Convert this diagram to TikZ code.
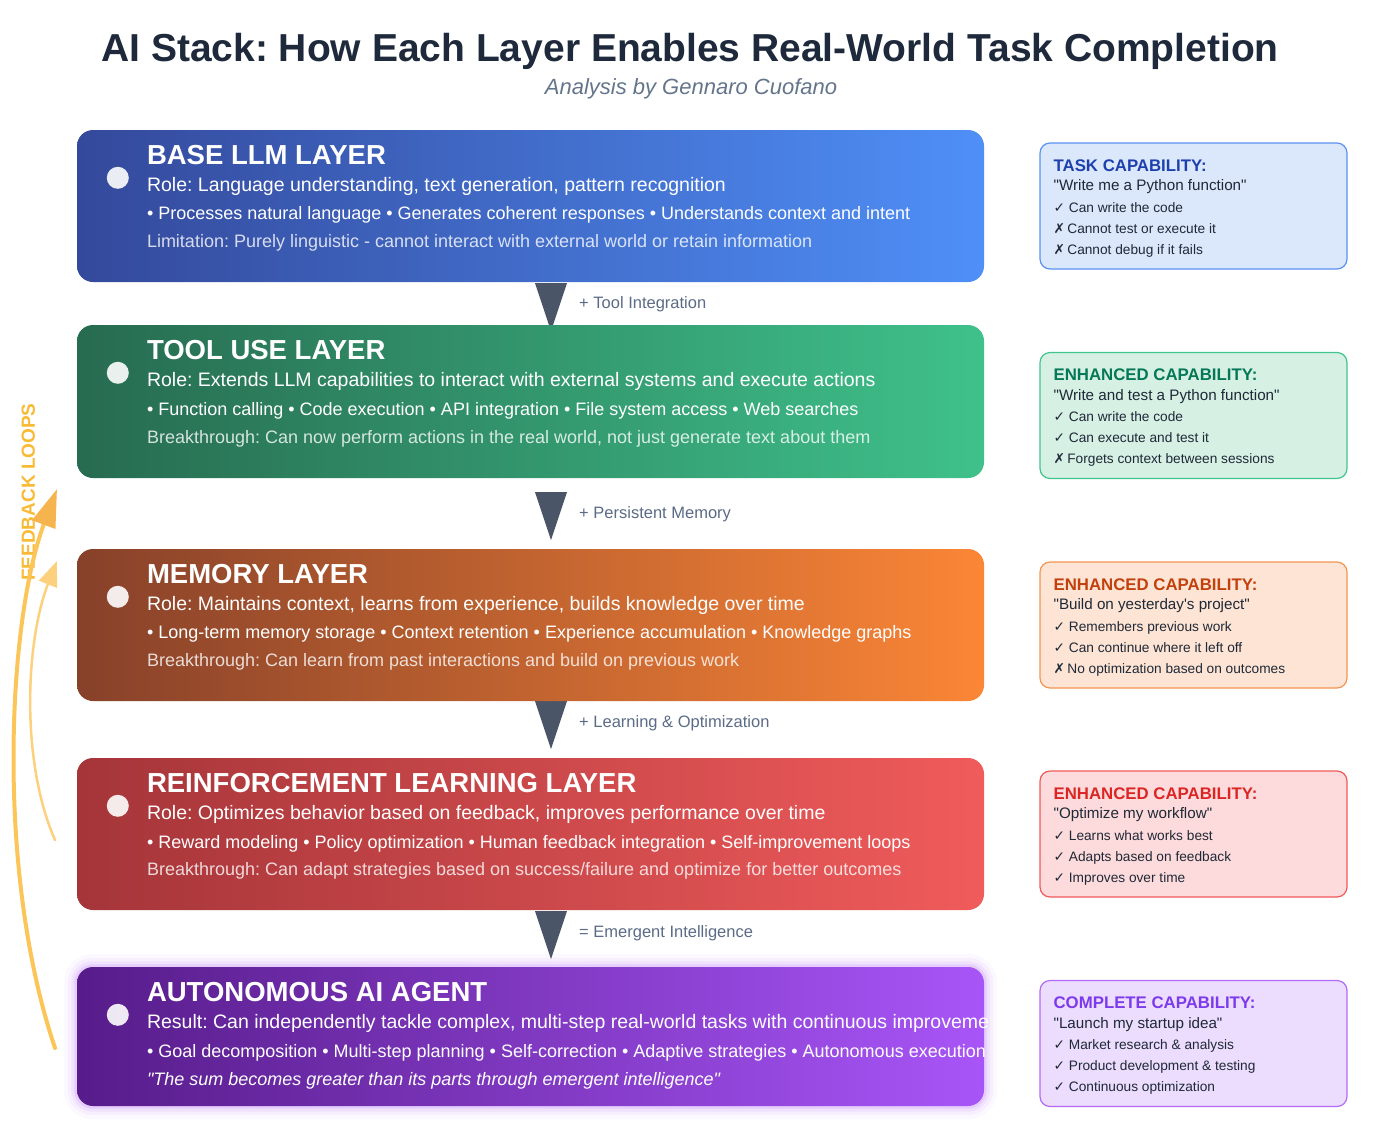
\documentclass[tikz,border=0pt]{standalone}
\usepackage{fontspec}
\setmainfont{Liberation Sans}[Ligatures=TeXOff]
\newfontfamily\symfont{DejaVu Sans}
\usetikzlibrary{calc,positioning,arrows.meta,backgrounds}
\frenchspacing

\definecolor{titleink}{HTML}{1E293B}
\definecolor{subink}{HTML}{64748B}
\definecolor{stepink}{HTML}{4A5568}
\definecolor{steptext}{HTML}{5B6B86}
\definecolor{capink}{HTML}{1F2937}
\definecolor{loopcol}{HTML}{FBC55A}
\definecolor{looptip}{HTML}{F6B44E}
\definecolor{loopsoft}{HTML}{FCD07C}
\definecolor{looptext}{HTML}{F9BA36}
\definecolor{blueL}{HTML}{34499B}
\definecolor{blueR}{HTML}{4F8FF7}
\definecolor{greenL}{HTML}{276B50}
\definecolor{greenR}{HTML}{3FC18B}
\definecolor{brownL}{HTML}{87412A}
\definecolor{brownR}{HTML}{FB8636}
\definecolor{redL}{HTML}{A53539}
\definecolor{redR}{HTML}{F05B5B}
\definecolor{purpL}{HTML}{571C8A}
\definecolor{purpR}{HTML}{A855F7}
\newcommand\cmark{{\symfont ✓}}
\newcommand\xmark{{\symfont ✗}}

\begin{document}
\begin{tikzpicture}[x=1pt,y=-1pt,
  txt/.style={inner sep=0pt, text depth=0pt},
  layer/.style={rounded corners=16pt, minimum width=907pt, inner sep=0pt},
  ltitle/.style={txt, anchor=west, text=white, text height=19.8pt, font=\fontsize{27.5}{30}\selectfont\bfseries},
  lrole/.style={txt, anchor=west, text=white, text height=14pt, font=\fontsize{19.5}{22}\selectfont},
  lfeat/.style={txt, anchor=west, text=white, text height=13pt, font=\fontsize{18}{21}\selectfont},
  lnote/.style={lfeat, text opacity=0.8},
  dot/.style={circle, fill=white, fill opacity=0.9, minimum size=22pt, inner sep=0pt},
  capbox/.style={draw, rounded corners=10pt, line width=1.2pt, minimum width=307pt, minimum height=126pt, inner sep=0pt},
  ctitle/.style={txt, anchor=west, text height=12pt, font=\fontsize{16.8}{19}\selectfont\bfseries},
  cquote/.style={txt, anchor=west, text=capink, text height=11pt, font=\fontsize{15.2}{17}\selectfont},
  citem/.style={txt, anchor=west, text=capink, text height=9.8pt, font=\fontsize{13.7}{16}\selectfont},
  tri/.style={fill=stepink},
  steplbl/.style={txt, anchor=west, text=steptext, text height=11.9pt, font=\fontsize{16.5}{19}\selectfont}]
\useasboundingbox (0,0) rectangle (1374,1146);

% heading
\node[txt, text=titleink, text height=28pt, font=\fontsize{39}{44}\selectfont\bfseries] (title) at (690,47) {AI Stack: How Each Layer Enables Real-World Task Completion};
\node[txt, text=subink, text height=15.8pt, font=\fontsize{22}{26}\selectfont\itshape] (subtitle) at (691,87) {Analysis by Gennaro Cuofano};

% layers
\node[layer, minimum height=152pt, left color=blueL, right color=blueR] (base) at (530.5,206) {};
\node[dot] (basedot) at ($(base.north west)+(41,48)$) {};
\node[ltitle] (basettl) at ($(base.north west)+(70,25)$) {BASE LLM LAYER};
\node[lrole] (baserole) at ($(base.north west)+(70,55)$) {Role: Language understanding, text generation, pattern recognition};
\node[lfeat] (basefeat) at ($(base.north west)+(70,83)$) {• Processes natural language • Generates coherent responses • Understands context and intent};
\node[lnote] (basenote) at ($(base.north west)+(70,111)$) {Limitation: Purely linguistic - cannot interact with external world or retain information};

\node[layer, minimum height=153pt, left color=greenL, right color=greenR] (tool) at (530.5,401.5) {};
\node[dot] (tooldot) at ($(tool.north west)+(41,48)$) {};
\node[ltitle] (toolttl) at ($(tool.north west)+(70,25)$) {TOOL USE LAYER};
\node[lrole] (toolrole) at ($(tool.north west)+(70,55)$) {Role: Extends LLM capabilities to interact with external systems and execute actions};
\node[lfeat] (toolfeat) at ($(tool.north west)+(70,84)$) {• Function calling • Code execution • API integration • File system access • Web searches};
\node[lnote] (toolnote) at ($(tool.north west)+(70,112)$) {Breakthrough: Can now perform actions in the real world, not just generate text about them};

\node[layer, minimum height=152pt, left color=brownL, right color=brownR] (mem) at (530.5,625) {};
\node[dot] (memdot) at ($(mem.north west)+(41,48)$) {};
\node[ltitle] (memttl) at ($(mem.north west)+(70,25)$) {MEMORY LAYER};
\node[lrole] (memrole) at ($(mem.north west)+(70,55)$) {Role: Maintains context, learns from experience, builds knowledge over time};
\node[lfeat] (memfeat) at ($(mem.north west)+(70,83)$) {• Long-term memory storage • Context retention • Experience accumulation • Knowledge graphs};
\node[lnote] (memnote) at ($(mem.north west)+(70,111)$) {Breakthrough: Can learn from past interactions and build on previous work};

\node[layer, minimum height=152pt, left color=redL, right color=redR] (rl) at (530.5,834) {};
\node[dot] (rldot) at ($(rl.north west)+(41,48)$) {};
\node[ltitle] (rlttl) at ($(rl.north west)+(70,25)$) {REINFORCEMENT LEARNING LAYER};
\node[lrole] (rlrole) at ($(rl.north west)+(70,55)$) {Role: Optimizes behavior based on feedback, improves performance over time};
\node[lfeat] (rlfeat) at ($(rl.north west)+(70,84)$) {• Reward modeling • Policy optimization • Human feedback integration • Self-improvement loops};
\node[lnote] (rlnote) at ($(rl.north west)+(70,111)$) {Breakthrough: Can adapt strategies based on success/failure and optimize for better outcomes};

\node[layer, minimum height=139pt, left color=purpL, right color=purpR] (agent) at (530.5,1036.5) {};
\node[dot] (agentdot) at ($(agent.north west)+(41,48)$) {};
\begin{scope}
\clip ($(agent.north west)$) rectangle ($(agent.south east)+(5,0)$);
\node[ltitle] (agentttl) at ($(agent.north west)+(70,25)$) {AUTONOMOUS AI AGENT};
\node[lrole] (agentrole) at ($(agent.north west)+(70,55)$) {Result: Can independently tackle complex, multi-step real-world tasks with continuous improvement};
\node[lfeat] (agentfeat) at ($(agent.north west)+(70,84)$) {• Goal decomposition • Multi-step planning • Self-correction • Adaptive strategies • Autonomous execution};
\node[lfeat, font=\fontsize{18}{21}\selectfont\itshape] (agentnote) at ($(agent.north west)+(70,112)$) {"The sum becomes greater than its parts through emergent intelligence"};
\end{scope}

% glow and step arrows behind the layers
\begin{scope}[on background layer]
\foreach \w/\o in {26/0.04,18/0.06,11/0.09,5/0.14}
  \draw[purpR, line width=\w pt, opacity=\o, rounded corners=16pt] (agent.north west) rectangle (agent.south east);
\coordinate (s1) at ($(base.south)+(20.5,1)$);
\coordinate (s2) at ($(tool.south)+(20.5,14)$);
\coordinate (s3) at ($(mem.south)+(20.5,0)$);
\coordinate (s4) at ($(rl.south)+(20.5,1)$);
\foreach \s in {s1,s2,s3,s4}
  \fill[tri] ($(\s)+(-16,0)$) -- ($(\s)+(16,0)$) -- ($(\s)+(0,48)$) -- cycle;
\end{scope}
\node[steplbl] (lbl1) at ($(s1)+(28,19)$) {+ Tool Integration};
\node[steplbl] (lbl2) at ($(s2)+(28,20)$) {+ Persistent Memory};
\node[steplbl] (lbl3) at ($(s3)+(28,20)$) {+ Learning \& Optimization};
\node[steplbl] (lbl4) at ($(s4)+(28,20)$) {= Emergent Intelligence};

% capability panels
\node[capbox, fill={rgb,255:red,219;green,231;blue,251}, draw={rgb,255:red,91;green,145;blue,243}] (cap1) at (1193.5,206) {};
\node[ctitle, text={rgb,255:red,30;green,64;blue,175}] (cap1t) at ($(cap1.north west)+(14,23)$) {TASK CAPABILITY:};
\node[cquote] (cap1q) at ($(cap1.north west)+(14,43)$) {"Write me a Python function"};
\node[citem] (cap1a) at ($(cap1.north west)+(14,65)$) {\cmark\ Can write the code};
\node[citem] (cap1b) at ($(cap1.north west)+(14,86)$) {\xmark\,Cannot test or execute it};
\node[citem] (cap1c) at ($(cap1.north west)+(14,107)$) {\xmark\,Cannot debug if it fails};

\node[capbox, fill={rgb,255:red,214;green,240;blue,228}, draw={rgb,255:red,64;green,197;blue,140}] (cap2) at (1193.5,415.5) {};
\node[ctitle, text={rgb,255:red,4;green,120;blue,87}] (cap2t) at ($(cap2.north west)+(14,23)$) {ENHANCED CAPABILITY:};
\node[cquote] (cap2q) at ($(cap2.north west)+(14,43)$) {"Write and test a Python function"};
\node[citem] (cap2a) at ($(cap2.north west)+(14,65)$) {\cmark\ Can write the code};
\node[citem] (cap2b) at ($(cap2.north west)+(14,86)$) {\cmark\ Can execute and test it};
\node[citem] (cap2c) at ($(cap2.north west)+(14,107)$) {\xmark\,Forgets context between sessions};

\node[capbox, fill={rgb,255:red,253;green,228;blue,212}, draw={rgb,255:red,243;green,149;blue,82}] (cap3) at (1193.5,625) {};
\node[ctitle, text={rgb,255:red,194;green,65;blue,12}] (cap3t) at ($(cap3.north west)+(14,23)$) {ENHANCED CAPABILITY:};
\node[cquote] (cap3q) at ($(cap3.north west)+(14,43)$) {"Build on yesterday's project"};
\node[citem] (cap3a) at ($(cap3.north west)+(14,65)$) {\cmark\ Remembers previous work};
\node[citem] (cap3b) at ($(cap3.north west)+(14,86)$) {\cmark\ Can continue where it left off};
\node[citem] (cap3c) at ($(cap3.north west)+(14,107)$) {\xmark\,No optimization based on outcomes};

\node[capbox, fill={rgb,255:red,253;green,218;blue,219}, draw={rgb,255:red,240;green,90;blue,90}] (cap4) at (1193.5,834) {};
\node[ctitle, text={rgb,255:red,220;green,38;blue,38}] (cap4t) at ($(cap4.north west)+(14,23)$) {ENHANCED CAPABILITY:};
\node[cquote] (cap4q) at ($(cap4.north west)+(14,43)$) {"Optimize my workflow"};
\node[citem] (cap4a) at ($(cap4.north west)+(14,65)$) {\cmark\ Learns what works best};
\node[citem] (cap4b) at ($(cap4.north west)+(14,86)$) {\cmark\ Adapts based on feedback};
\node[citem] (cap4c) at ($(cap4.north west)+(14,107)$) {\cmark\ Improves over time};

\node[capbox, fill={rgb,255:red,236;green,220;blue,253}, draw={rgb,255:red,178;green,107;blue,247}] (cap5) at (1193.5,1043.5) {};
\node[ctitle, text={rgb,255:red,124;green,58;blue,237}] (cap5t) at ($(cap5.north west)+(14,23)$) {COMPLETE CAPABILITY:};
\node[cquote] (cap5q) at ($(cap5.north west)+(14,43)$) {"Launch my startup idea"};
\node[citem] (cap5a) at ($(cap5.north west)+(14,65)$) {\cmark\ Market research \& analysis};
\node[citem] (cap5b) at ($(cap5.north west)+(14,86)$) {\cmark\ Product development \& testing};
\node[citem] (cap5c) at ($(cap5.north west)+(14,107)$) {\cmark\ Continuous optimization};

% feedback loops
\node[txt, rotate=90, text=looptext, text height=13.7pt, font=\fontsize{19}{22}\selectfont\bfseries] (fb) at (28,492) {FEEDBACK LOOPS};
\coordinate (outerS) at (55,1048);
\coordinate (outerE) at (57,489);
\coordinate (innerS) at (55,840);
\coordinate (innerE) at (57,561);
\draw[loopcol, line width=4pt, line cap=round, -{Triangle[length=38pt,width=24pt,color=looptip]}] (outerS) .. controls (-5,870) and (8,620) .. (outerE);
\draw[loopsoft, line width=2.5pt, line cap=round, -{Triangle[length=25pt,width=19pt,color=loopsoft]}] (innerS) .. controls (20,760) and (26,640) .. (innerE);
\end{tikzpicture}
\end{document}
